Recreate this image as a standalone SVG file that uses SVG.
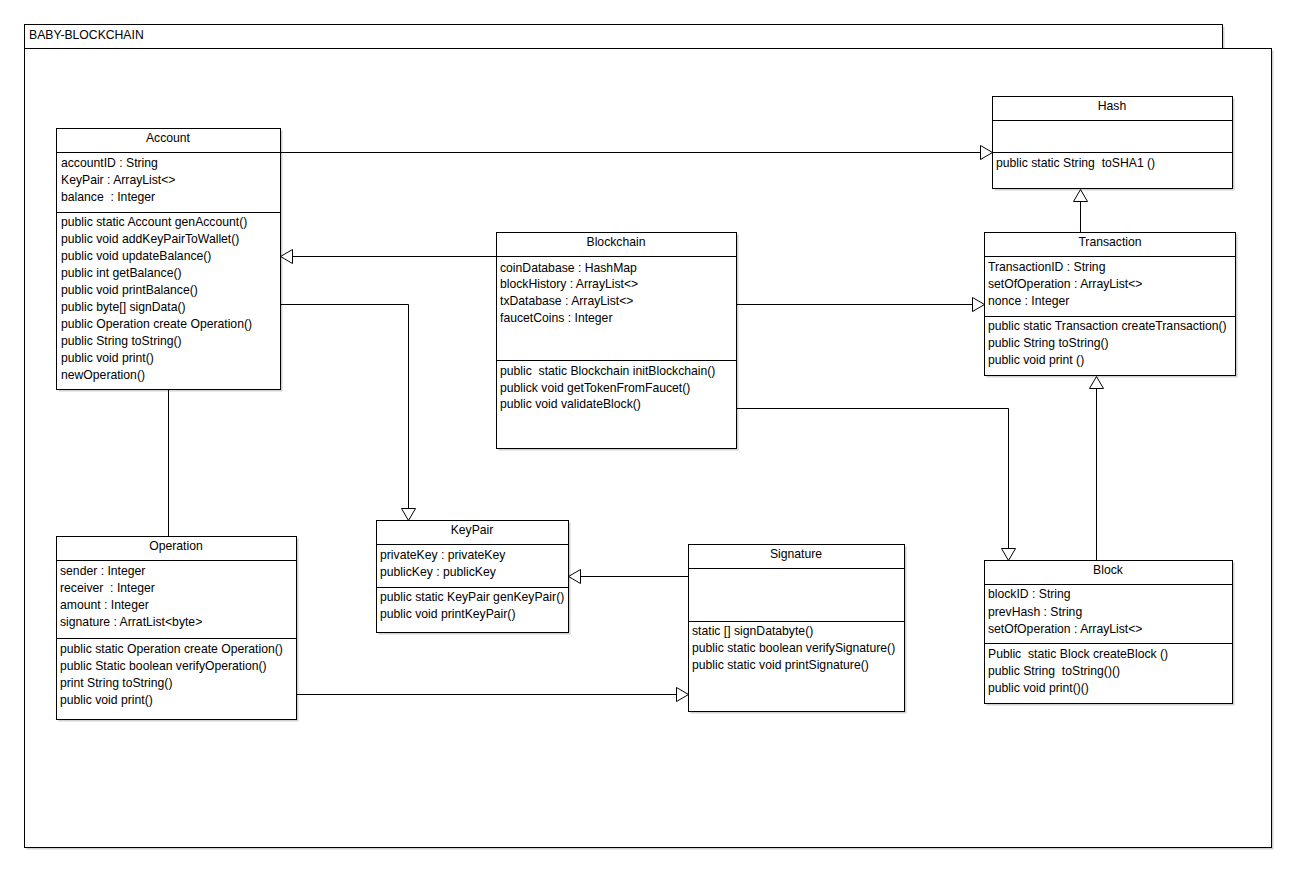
<svg xmlns="http://www.w3.org/2000/svg" width="1296" height="872" viewBox="0 0 1296 872">
<style>
text{font-family:"Liberation Sans",Arial,sans-serif;font-size:12.2px;fill:#000;white-space:pre}
.t{text-anchor:middle}
.box{fill:#fff;stroke:#000;stroke-width:1}
.sep{stroke:#000;stroke-width:1}
.shadow{fill:#000;opacity:0.18}
.edge{fill:none;stroke:#000;stroke-width:1}
.head{fill:#fff;stroke:#000;stroke-width:1}
</style>
<rect x="0" y="0" width="1296" height="872" fill="#fff"/>
<g id="package">
<rect class="shadow" x="26.5" y="26.5" width="1198" height="24"/>
<rect class="shadow" x="26.5" y="50.5" width="1247" height="799"/>
<rect class="box" x="24.5" y="24.5" width="1198" height="24"/>
<rect class="box" x="24.5" y="48.5" width="1247" height="799"/>
<text x="29" y="38.5">BABY-BLOCKCHAIN</text>
</g>
<g id="connectors">
<!-- Account -> Hash -->
<polyline class="edge" points="280.5,152.5 980.5,152.5"/>
<polygon class="head" points="992.5,152.5 980.5,145.5 980.5,159.5"/>
<!-- Blockchain -> Account -->
<polyline class="edge" points="496.5,256.5 292.5,256.5"/>
<polygon class="head" points="280.5,256.5 292.5,249.5 292.5,263.5"/>
<!-- Account -> KeyPair -->
<polyline class="edge" points="280.5,304.5 408.5,304.5 408.5,508.5"/>
<polygon class="head" points="408.5,520.5 401.5,508.5 415.5,508.5"/>
<!-- Blockchain -> Transaction -->
<polyline class="edge" points="736.5,304.5 972.5,304.5"/>
<polygon class="head" points="984.5,304.5 972.5,297.5 972.5,311.5"/>
<!-- Blockchain -> Block -->
<polyline class="edge" points="736.5,408.5 1008.5,408.5 1008.5,548.5"/>
<polygon class="head" points="1008.5,560.5 1001.5,548.5 1015.5,548.5"/>
<!-- Transaction -> Hash -->
<polyline class="edge" points="1080.5,232.5 1080.5,201.5"/>
<polygon class="head" points="1080.5,189.5 1073.5,201.5 1087.5,201.5"/>
<!-- Block -> Transaction -->
<polyline class="edge" points="1096.5,560.5 1096.5,388.5"/>
<polygon class="head" points="1096.5,376.5 1089.5,388.5 1103.5,388.5"/>
<!-- Account - Operation -->
<polyline class="edge" points="168.5,389.5 168.5,536.5"/>
<!-- Signature -> KeyPair -->
<polyline class="edge" points="688.5,576.5 580.5,576.5"/>
<polygon class="head" points="568.5,576.5 580.5,569.5 580.5,583.5"/>
<!-- Operation -> Signature -->
<polyline class="edge" points="296.5,694.5 676.5,694.5"/>
<polygon class="head" points="688.5,694.5 676.5,687.5 676.5,701.5"/>
</g>
<g id="Account">
<rect class="shadow" x="58.5" y="130.5" width="224" height="261"/>
<rect class="box" x="56.5" y="128.5" width="224" height="261"/>
<line class="sep" x1="56.5" y1="152.5" x2="280.5" y2="152.5"/>
<line class="sep" x1="56.5" y1="212.5" x2="280.5" y2="212.5"/>
<text class="t" x="168" y="141.8">Account</text>
<text x="61" y="166.8">accountID : String</text>
<text x="61" y="183.8">KeyPair : ArrayList&lt;&gt;</text>
<text x="61" y="200.8">balance  : Integer</text>
<text x="61" y="226">public static Account genAccount()</text>
<text x="61" y="243">public void addKeyPairToWallet()</text>
<text x="61" y="259.9">public void updateBalance()</text>
<text x="61" y="276.9">public int getBalance()</text>
<text x="61" y="293.8">public void printBalance()</text>
<text x="61" y="310.8">public byte[] signData()</text>
<text x="61" y="327.8">public Operation create Operation()</text>
<text x="61" y="344.7">public String toString()</text>
<text x="61" y="361.7">public void print()</text>
<text x="61" y="378.6">newOperation()</text>
</g>
<g id="Blockchain">
<rect class="shadow" x="498.5" y="234.5" width="240" height="216"/>
<rect class="box" x="496.5" y="232.5" width="240" height="216"/>
<line class="sep" x1="496.5" y1="256.5" x2="736.5" y2="256.5"/>
<line class="sep" x1="496.5" y1="360.5" x2="736.5" y2="360.5"/>
<text class="t" x="616" y="246">Blockchain</text>
<text x="500" y="271.6">coinDatabase : HashMap</text>
<text x="500" y="288.3">blockHistory : ArrayList&lt;&gt;</text>
<text x="500" y="305">txDatabase : ArrayList&lt;&gt;</text>
<text x="500" y="321.6">faucetCoins : Integer</text>
<text x="500" y="375">public  static Blockchain initBlockchain()</text>
<text x="500" y="391.6">publick void getTokenFromFaucet()</text>
<text x="500" y="408.3">public void validateBlock()</text>
</g>
<g id="Hash">
<rect class="shadow" x="994.5" y="98.5" width="240" height="92"/>
<rect class="box" x="992.5" y="96.5" width="240" height="92"/>
<line class="sep" x1="992.5" y1="120.5" x2="1232.5" y2="120.5"/>
<line class="sep" x1="992.5" y1="152.5" x2="1232.5" y2="152.5"/>
<text class="t" x="1112" y="110">Hash</text>
<text x="996" y="167">public static String  toSHA1 ()</text>
</g>
<g id="Transaction">
<rect class="shadow" x="986.5" y="234.5" width="251" height="143"/>
<rect class="box" x="984.5" y="232.5" width="251" height="143"/>
<line class="sep" x1="984.5" y1="256.5" x2="1235.5" y2="256.5"/>
<line class="sep" x1="984.5" y1="316.5" x2="1235.5" y2="316.5"/>
<text class="t" x="1110" y="246">Transaction</text>
<text x="988" y="271">TransactionID : String</text>
<text x="988" y="288">setOfOperation : ArrayList&lt;&gt;</text>
<text x="988" y="305">nonce : Integer</text>
<text x="988" y="330">public static Transaction createTransaction()</text>
<text x="988" y="347">public String toString()</text>
<text x="988" y="363.8">public void print ()</text>
</g>
<g id="Block">
<rect class="shadow" x="986.5" y="562.5" width="248" height="143"/>
<rect class="box" x="984.5" y="560.5" width="248" height="143"/>
<line class="sep" x1="984.5" y1="584.5" x2="1232.5" y2="584.5"/>
<line class="sep" x1="984.5" y1="643.5" x2="1232.5" y2="643.5"/>
<text class="t" x="1108" y="574.3">Block</text>
<text x="988" y="598.3">blockID : String</text>
<text x="988" y="615.5">prevHash : String</text>
<text x="988" y="632.7">setOfOperation : ArrayList&lt;&gt;</text>
<text x="988" y="657.8">Public  static Block createBlock ()</text>
<text x="988" y="674.8">public String  toString()()</text>
<text x="988" y="691.8">public void print()()</text>
</g>
<g id="Operation">
<rect class="shadow" x="58.5" y="538.5" width="240" height="183"/>
<rect class="box" x="56.5" y="536.5" width="240" height="183"/>
<line class="sep" x1="56.5" y1="560.5" x2="296.5" y2="560.5"/>
<line class="sep" x1="56.5" y1="638.5" x2="296.5" y2="638.5"/>
<text class="t" x="176" y="550.3">Operation</text>
<text x="60" y="574.8">sender : Integer</text>
<text x="60" y="591.8">receiver  : Integer</text>
<text x="60" y="608.8">amount : Integer</text>
<text x="60" y="625.8">signature : ArratList&lt;byte&gt;</text>
<text x="60" y="653.3">public static Operation create Operation()</text>
<text x="60" y="670.3">public Static boolean verifyOperation()</text>
<text x="60" y="687.3">print String toString()</text>
<text x="60" y="704.3">public void print()</text>
</g>
<g id="KeyPair">
<rect class="shadow" x="378.5" y="522.5" width="192" height="112"/>
<rect class="box" x="376.5" y="520.5" width="192" height="112"/>
<line class="sep" x1="376.5" y1="544.5" x2="568.5" y2="544.5"/>
<line class="sep" x1="376.5" y1="587.5" x2="568.5" y2="587.5"/>
<text class="t" x="472" y="534.3">KeyPair</text>
<text x="380" y="558.8">privateKey : privateKey</text>
<text x="380" y="575.8">publicKey : publicKey</text>
<text x="380" y="601.3">public static KeyPair genKeyPair()</text>
<text x="380" y="618.3">public void printKeyPair()</text>
</g>
<g id="Signature">
<rect class="shadow" x="690.5" y="546.5" width="216" height="167"/>
<rect class="box" x="688.5" y="544.5" width="216" height="167"/>
<line class="sep" x1="688.5" y1="568.5" x2="904.5" y2="568.5"/>
<line class="sep" x1="688.5" y1="621.5" x2="904.5" y2="621.5"/>
<text class="t" x="796" y="557.8">Signature</text>
<text x="692" y="634.8">static [] signDatabyte()</text>
<text x="692" y="651.8">public static boolean verifySignature()</text>
<text x="692" y="668.8">public static void printSignature()</text>
</g>
</svg>
